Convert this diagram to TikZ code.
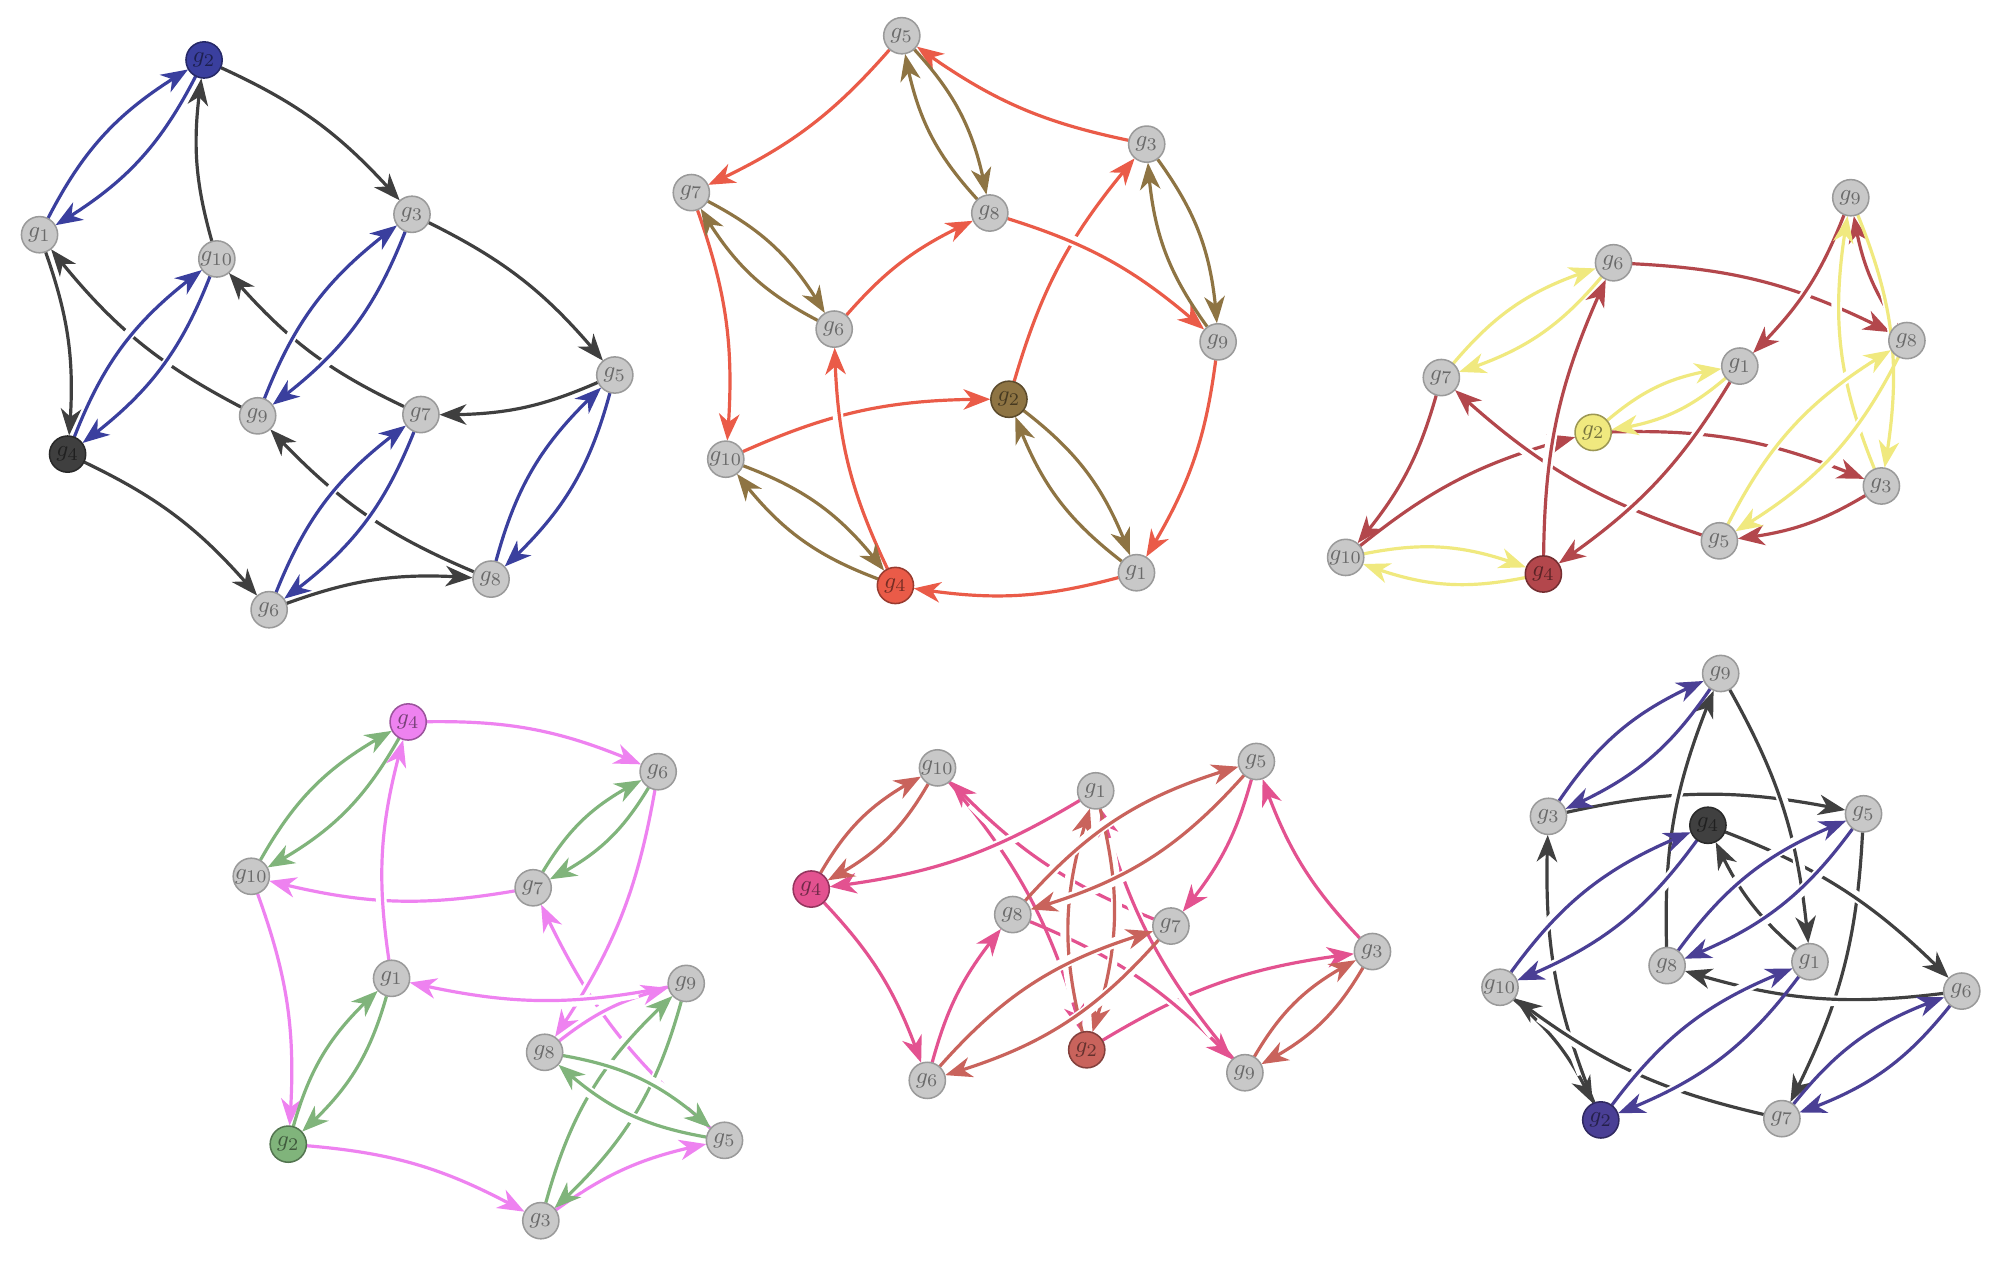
\documentclass[tikz,border=0pt]{standalone}
\usetikzlibrary{arrows.meta,bending}
\definecolor{nodefill}{HTML}{C8C8C8}
\definecolor{nodeborder}{HTML}{9A9A9A}
\definecolor{labelcol}{HTML}{6A6A6A}
\definecolor{cycA}{HTML}{3F3F3F}\definecolor{parA}{HTML}{3A3F9E}
\definecolor{cycB}{HTML}{EA5B48}\definecolor{parB}{HTML}{8E7443}
\definecolor{cycC}{HTML}{B3474C}\definecolor{parC}{HTML}{F0E97F}
\definecolor{cycD}{HTML}{EE82F0}\definecolor{parD}{HTML}{80B47B}
\definecolor{cycE}{HTML}{E35290}\definecolor{parE}{HTML}{C9635C}
\definecolor{cycF}{HTML}{404040}\definecolor{parF}{HTML}{4A3F95}
\tikzset{
  vert/.style={circle, draw=nodeborder, fill=nodefill, line width=0.6pt, minimum size=14.2pt, inner sep=0pt, text=labelcol, font=\fontsize{9.5}{10}\selectfont},
  anc/.style={circle, minimum size=14.2pt, inner sep=0pt},
  edg/.style={line width=1.25pt, -{Stealth[length=10.5pt,width=8pt,inset=3.2pt]}, preaction={draw=white, line width=4.2pt, -, shorten <=12pt, shorten >=12pt}},
}
\newcommand\cayleypanel[4]{%
  \foreach \n/\x/\y in {#4} {\node[anc] (#1\n) at (\x,\y) {};}
  \foreach \a/\b in {10/2,2/3,3/5,5/7,7/10,4/6,6/8,8/9,9/1,1/4} {\draw[edg,draw=#2] (#1\a) to[bend left=12] (#1\b);}
  \foreach \a/\b in {1/2,10/4,3/9,6/7,5/8} {\draw[edg,draw=#3] (#1\a) to[bend left=16] (#1\b); \draw[edg,draw=#3] (#1\b) to[bend left=16] (#1\a);}
  \foreach \n in {1,3,5,6,7,8,9,10} {\node[vert] (#1\n-l) at (#1\n) {$g_{\n}$};}
  \node[vert, fill=#3, draw=#3!65!black, text=#3!50!black] (#12-l) at (#12) {$g_{2}$};
  \node[vert, fill=#2, draw=#2!65!black, text=#2!50!black] (#14-l) at (#14) {$g_{4}$};
}
\begin{document}
\begin{tikzpicture}[x=0.5pt,y=-0.5pt]
\useasboundingbox (0,0) rectangle (1568,992);
\cayleypanel{A}{cycA}{parA}{1/31/184,2/160/47,3/323/168,4/53/356,5/482/294,6/211/478,7/330/325,8/385/454,9/202/326,10/170/203}
\cayleypanel{B}{cycB}{parB}{1/891/449,2/791/313,3/899/113,4/702/459,5/707/28,6/654/258,7/542/151,8/776/167,9/955/268,10/569/360}
\cayleypanel{C}{cycC}{parC}{1/1364/287,2/1249/339,3/1475/381,4/1210/450,5/1348/424,6/1265/206,7/1130/296,8/1495/267,9/1451/155,10/1055/437}
\cayleypanel{D}{cycD}{parD}{1/307/767,2/226/897,3/424/957,4/320/566,5/568/894,6/516/605,7/418/696,8/427/825,9/538/771,10/197/687}
\cayleypanel{E}{cycE}{parE}{1/859/620,2/852/823,3/1076/746,4/636/697,5/985/597,6/727/847,7/918/726,8/794/717,9/976/841,10/735/602}
\cayleypanel{F}{cycF}{parF}{1/1419/754,2/1255/878,3/1214/640,4/1339/647,5/1461/638,6/1538/777,7/1397/877,8/1307/757,9/1349/528,10/1176/774}
\end{tikzpicture}
\end{document}
